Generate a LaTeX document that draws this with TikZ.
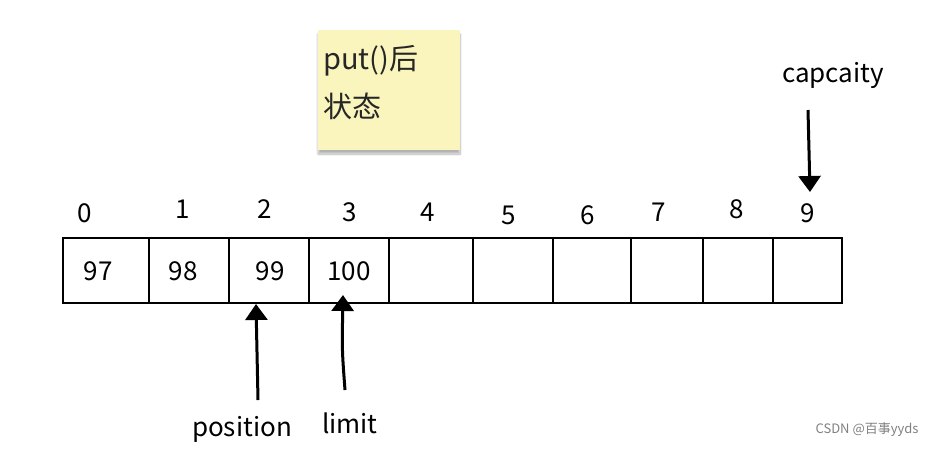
\documentclass[tikz,border=0pt]{standalone}
\usepackage{fontspec}
\setmainfont{Noto Sans CJK SC}
\usetikzlibrary{arrows.meta,shadows.blur}
\definecolor{note}{HTML}{FAF5BD}
\begin{document}
\begin{tikzpicture}[x=1pt,y=-1pt,
  cell/.style={draw,line width=1.8pt,minimum height=65pt,inner sep=0pt},
  lab/.style={font=\fontsize{26}{30}\selectfont,inner sep=0pt},
  big/.style={font=\fontsize{29}{34}\selectfont,inner sep=0pt,text=black!85},
  arr/.style={line width=3pt,-{Triangle[length=16pt,width=22pt]}}]
\useasboundingbox (0,0) rectangle (936,448);
\node[fill=note,minimum width=142pt,minimum height=120pt,blur shadow={shadow blur steps=8,shadow xshift=0pt,shadow yshift=-4pt,shadow opacity=30}] (note) at (389,90) {};
\node[big,anchor=west] (t1) at (323,61) {put()后};
\node[big,anchor=west] (t2) at (323,106) {状态};
\foreach \a/\b/\n in {63/149/c0,149/229/c1,229/309/c2,309/389/c3,389/473/c4,473/553/c5,553/631/c6,631/703/c7,703/773/c8,773/842/c9}
  \node[cell,minimum width={\b-\a}] (\n) at ({(\a+\b)/2},270.5) {};
\foreach \x/\y/\t in {85/213/0,183/209/1,265/209/2,350/212/3,428/212/4,509/215/5,588/215/6,659/212/7,737/209/8,808/213/9}
  \node[lab] (i\t) at (\x,\y) {\t};
\foreach \x/\t in {98/97,183/98,270/99,349/100}
  \node[lab] (v\t) at (\x,271) {\t};
\node[lab] (pos) at (242,429) {position};
\node[lab] (lim) at (350,423) {limit};
\node[lab] (cap) at (833,75) {capcaity};
\coordinate (pa) at (258,400); \coordinate (pb) at (256,304);
\coordinate (la) at (345,390); \coordinate (lb) at (343,295);
\coordinate (ca) at (808,110); \coordinate (cb) at (810,192);
\draw[arr] (pa) -- (pb);
\draw[arr] (la) .. controls (342,350) .. (lb);
\draw[arr] (ca) -- (cb);
\node[font=\fontsize{13}{15}\selectfont,text=gray,anchor=east] (wm) at (922,430) {CSDN @百事yyds};
\end{tikzpicture}
\end{document}
